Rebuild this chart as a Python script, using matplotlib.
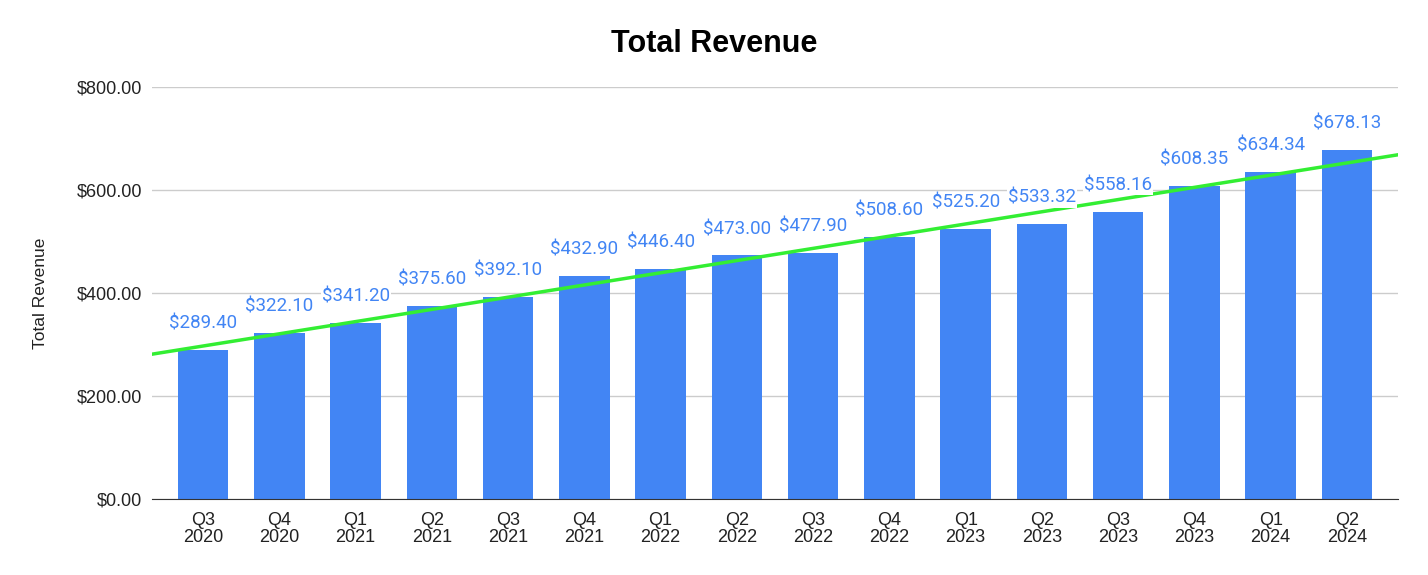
import numpy as np
import matplotlib
matplotlib.use("Agg")
import matplotlib.pyplot as plt

# Quarterly revenue values
quarters = ["Q3\n2020", "Q4\n2020", "Q1\n2021", "Q2\n2021", "Q3\n2021", "Q4\n2021",
            "Q1\n2022", "Q2\n2022", "Q3\n2022", "Q4\n2022", "Q1\n2023", "Q2\n2023",
            "Q3\n2023", "Q4\n2023", "Q1\n2024", "Q2\n2024"]
revenue = [289.40, 322.10, 341.20, 375.60, 392.10, 432.90, 446.40, 473.00,
           477.90, 508.60, 525.20, 533.32, 558.16, 608.35, 634.34, 678.13]
yticks = [0, 200, 400, 600, 800]

plt.rcParams["font.family"] = ["Liberation Sans", "DejaVu Sans"]

fig = plt.figure(figsize=(14.28, 5.75), dpi=100)
ax = fig.add_axes([152 / 1428, 1 - 499 / 575, 1246 / 1428, 412 / 575])

x = np.arange(len(revenue))
ax.bar(x, revenue, width=0.66, color="#4285F4", zorder=2)

# linear trendline across the full plot width
xmin, xmax = -0.67, len(revenue) - 1 + 0.67
coef = np.polyfit(x, revenue, 1)
tx = np.array([xmin, xmax])
ax.plot(tx, np.polyval(coef, tx), color="#33EE33", lw=2.5, zorder=3)

for xi, v in zip(x, revenue):
    ax.annotate(f"${v:,.2f}", (xi, v), xytext=(0, 12.5), textcoords="offset points",
                ha="center", va="bottom", fontsize=13.5, color="#4285F4",
                family=["Roboto", "DejaVu Sans"],
                bbox=dict(boxstyle="square,pad=0.05", fc="white", ec="none"), zorder=4)

ax.set_xlim(xmin, xmax)
ax.set_ylim(0, 800)
ax.set_xticks(x)
ax.set_xticklabels(quarters, fontsize=13, color="#222222", linespacing=0.95)
ax.set_yticks(yticks)
ax.set_yticklabels([f"${t:,.2f}" for t in yticks], fontsize=13, color="#222222")
ax.tick_params(axis="y", length=0, pad=7)
ax.tick_params(axis="x", length=0, pad=9.5)
ax.grid(axis="y", color="#cccccc", lw=1, zorder=0)
for s in ["top", "right", "left"]:
    ax.spines[s].set_visible(False)
ax.spines["bottom"].set_color("#333333")
ax.spines["bottom"].set_zorder(5)

ax.set_ylabel("Total Revenue", fontsize=12.5, color="#222222", labelpad=21)
fig.text(0.5, 1 - 44 / 575, "Total Revenue", ha="center", va="center",
         fontsize=22, fontweight="bold")

fig.savefig("out.png", dpi=100)
